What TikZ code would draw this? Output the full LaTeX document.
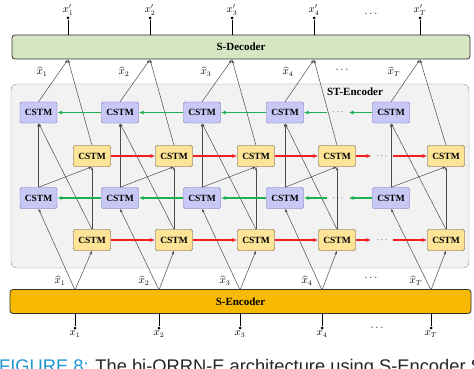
\documentclass[tikz,border=0pt]{standalone}
\usepackage{fontspec}
\setmainfont{Liberation Serif}
\newfontfamily\capfont{Liberation Sans}
\usetikzlibrary{arrows.meta}
\definecolor{decgreen}{RGB}{214,230,194}
\definecolor{encgold}{RGB}{248,186,0}
\definecolor{stgray}{RGB}{242,242,242}
\definecolor{cstmblue}{RGB}{200,200,246}
\definecolor{cstmyellow}{RGB}{253,228,150}
\definecolor{fwdred}{RGB}{240,30,30}
\definecolor{bwdgreen}{RGB}{30,176,80}
\definecolor{capblue}{RGB}{30,150,210}
\tikzset{
bar/.style={
	  draw=black!80, line width=0.8pt, rounded corners=3pt,
	    minimum height=24pt, font=\bfseries\fontsize{11}{13}\selectfont},
cstm/.style={
	  draw, rounded corners=2pt, minimum width=37pt, minimum height=21pt,
	    inner sep=0pt, font=\bfseries\fontsize{9.5}{11}\selectfont},
bwdcell/.style={cstm, fill=cstmblue, draw=black!45!blue!60},
fwdcell/.style={cstm, fill=cstmyellow, draw=black!50!brown},
feed/.style={draw=black!70, line width=0.5pt, -{Latex[length=3.5pt,width=2.5pt]}},
fwd/.style={draw=fwdred, line width=1.3pt, -{Latex[length=5pt,width=4pt]}},
bwd/.style={draw=bwdgreen, line width=1.3pt, -{Latex[length=5pt,width=4pt]}},
pin/.style={circle, fill=black, inner sep=0pt, minimum size=3pt},
lbl/.style={font=\fontsize{10.5}{12}\selectfont, inner sep=1pt},
dots/.style={font=\fontsize{9}{10}\selectfont, inner sep=5pt}
}

\begin{document}
\begin{tikzpicture}[x=1pt, y=-1pt]
	\useasboundingbox (0,0) rectangle (474,369);
	\clip (0,0) rectangle (474,369);
	\node[draw=black!45, fill=stgray, rounded corners=6pt, minimum width=458pt,
	minimum height=184pt] (st) at (240,176) {};
	\node[font=\bfseries\fontsize{11}{13}\selectfont] (sttitle) at (355,92) {ST-Encoder};
	\node[bar, fill=decgreen, minimum width=458pt] (dec) at (241,47) {S-Decoder};
	\node[bar, fill=encgold, minimum width=461pt] (enc) at (240.5,301.5) {S-Encoder};
	\foreach \i/\s/\bx/\fx/\dx/\ex in {1/1/38.5/92/68/75, 2/2/120/174/150/159,
		3/3/202/256/232/240, 4/4/285/337/314/322, 5/T/391/446/420/431} {
		\node[bwdcell] (ub\i) at (\bx,112.5) {CSTM};
		\node[fwdcell] (uf\i) at (\fx,156) {CSTM};
		\node[bwdcell] (lb\i) at (\bx,198) {CSTM};
		\node[fwdcell] (lf\i) at (\fx,240) {CSTM};
		\coordinate (d\i) at (\dx,59.5);
		\coordinate (e\i) at (\ex,290);
		\node[pin] (out\i) at (\dx,18) {};
		\node[lbl, above] (xout\i) at (out\i.north) {$x'_{\s}$};
		\node[pin] (in\i) at (\ex,328) {};
		\node[lbl, below] (xin\i) at (in\i.south) {$x_{\s}$};
		\node[lbl] (hd\i) at (\dx-26,72) {$\widehat{x}_{\s}$};
		\node[lbl] (he\i) at (\ex-15,281) {$\widehat{x}_{\s}$};
		\draw (dec.north -| out\i) -- (out\i);
		\draw (in\i) -- (enc.south -| in\i);
		\draw[feed] (e\i) -- (lf\i.south);
		\draw[feed] (e\i) -- (lb\i.south);
		\draw[feed] (lf\i.north) -- (uf\i.south);
		\draw[feed] (lb\i.north) -- (uf\i.south);
		\draw[feed] (lb\i.north) -- (ub\i.south);
		\draw[feed] (lf\i.north) -- (ub\i.south);
		\draw[feed] (ub\i.north) -- (d\i);
		\draw[feed] (uf\i.north) -- (d\i);
	}
	\foreach \i/\j in {1/2, 2/3, 3/4} {
		\draw[fwd] (uf\i) -- (uf\j);
		\draw[fwd] (lf\i) -- (lf\j);
		\draw[bwd] (ub\j) -- (ub\i);
		\draw[bwd] (lb\j) -- (lb\i);
	}
	\node[dots] (ubdots) at (338,112.5) {$\cdots$};
	\node[dots] (ufdots) at (382,156) {$\cdots$};
	\node[dots] (lbdots) at (338,198) {$\cdots$};
	\node[dots] (lfdots) at (382,240) {$\cdots$};
	\draw[bwd] (ubdots) -- (ub4);
	\draw[bwd] (ub5) -- (ubdots);
	\draw[bwd] (lbdots) -- (lb4);
	\draw[bwd] (lb5) -- (lbdots);
	\draw[fwd] (uf4) -- (ufdots);
	\draw[fwd] (ufdots) -- (uf5);
	\draw[fwd] (lf4) -- (lfdots);
	\draw[fwd] (lfdots) -- (lf5);
	\node[lbl] (outdots) at (371,14) {$\cdots$};
	\node[lbl] (hddots) at (342,70) {$\cdots$};
	\node[lbl] (hedots) at (371,278) {$\cdots$};
	\node[lbl] (indots) at (377,328) {$\cdots$};
	\node[anchor=base west, inner sep=0pt, text=black!85,
	font=\capfont\fontsize{18.3}{22}\selectfont] (caption) at (-1,372)
	{\textcolor{capblue}{FIGURE 8:} The bi-ORRN-E architecture using S-Encoder S-Decoder};
\end{tikzpicture}
\end{document}
